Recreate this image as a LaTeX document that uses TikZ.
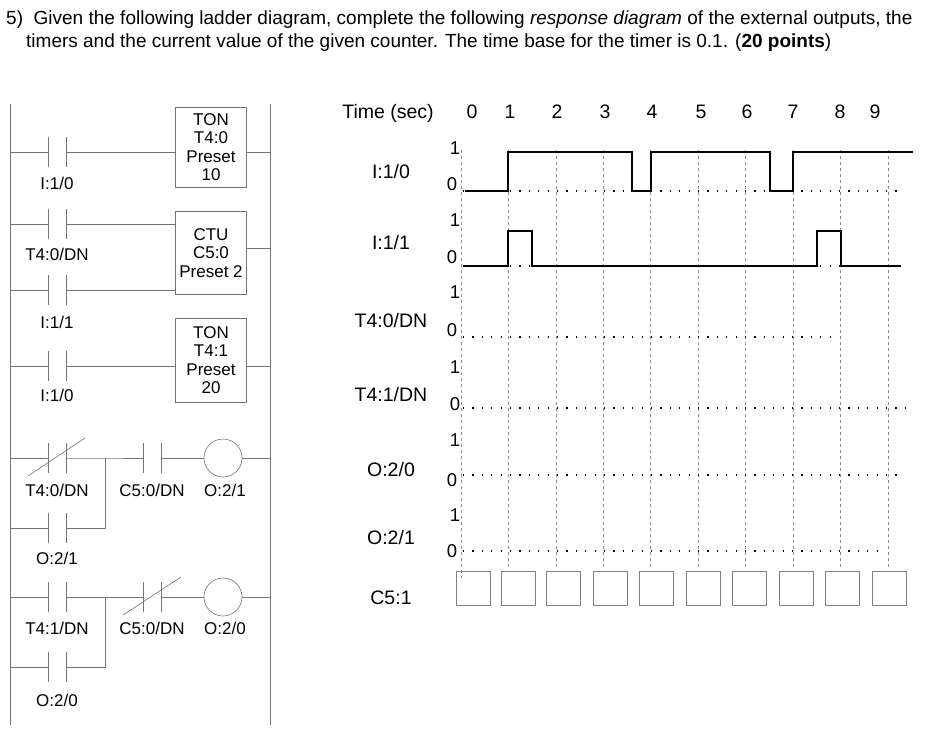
\documentclass[tikz,border=0pt]{standalone}
\usepackage{fontspec}
\setmainfont{Liberation Sans}
\begin{document}
\begin{tikzpicture}[x=1pt,y=-1pt,
  wire/.style={draw=black!55,line width=0.6pt},
  blk/.style={draw=black!55,line width=0.6pt,minimum width=71pt,align=center,font=\fontsize{17}{18.5}\selectfont,inner sep=1pt},
  lbl/.style={font=\fontsize{17}{19}\selectfont,inner sep=0pt},
  rl/.style={font=\fontsize{19.5}{21}\selectfont,inner sep=0pt},
  grid/.style={draw=black!45,dashed,line width=0.5pt},
  dots/.style={draw=black,line width=1.2pt,dash pattern=on 1.2pt off 8.2pt},
  sig/.style={draw=black,line width=1.6pt},
  cbox/.style={draw=black!50,line width=0.6pt,minimum width=34pt,minimum height=34pt,inner sep=0pt}]
\useasboundingbox (0,0) rectangle (942,745);
% header
\node[anchor=west,inner sep=0pt,font=\fontsize{19}{21}\selectfont] (h1) at (6,20) {5)\ \ Given the following ladder diagram, complete the following \emph{response diagram} of the external outputs, the};
\node[anchor=west,inner sep=0pt,font=\fontsize{19}{21}\selectfont] (h2) at (26,43) {timers and the current value of the given counter. The time base for the timer is 0.1. (\textbf{20 points})};
% rails
\coordinate (lt) at (10,104); \coordinate (lb) at (10,725);
\coordinate (rt) at (270,104); \coordinate (rb) at (270,725);
\draw[wire] (lt)--(lb); \draw[wire] (rt)--(rb);
\newcommand\cont[3]{%
  \coordinate (#3a) at (#1,#2); \coordinate (#3b) at (#1+18,#2);
  \draw[wire] (#1,#2-15)--(#1,#2+15); \draw[wire] (#1+18,#2-15)--(#1+18,#2+15);}
% boxes
\node[blk,minimum height=80pt] (ton0) at (211,147) {TON\\T4:0\\Preset\\10};
\node[blk,minimum height=83pt] (ctu) at (211,253) {CTU\\C5:0\\Preset 2};
\node[blk,minimum height=84pt] (ton1) at (211,360) {TON\\T4:1\\Preset\\20};
% rung 1
\cont{48}{152}{c1}
\draw[wire] (10,152)--(c1a); \draw[wire] (c1b)--(ton0.west|-0,152);
\draw[wire] (ton0.east|-0,152)--(270,152);
\node[lbl] (l1) at (57,183) {I:1/0};
% rung 2
\cont{48}{224}{c2}
\draw[wire] (10,224)--(c2a); \draw[wire] (c2b)--(ctu.west|-0,224);
\node[lbl] (l2) at (57,254) {T4:0/DN};
\cont{48}{290}{c3}
\draw[wire] (10,290)--(c3a); \draw[wire] (c3b)--(ctu.west|-0,290);
\node[lbl] (l3) at (57,322) {I:1/1};
\draw[wire] (ctu.east|-0,248)--(270,248);
% rung 3
\cont{48}{366}{c4}
\draw[wire] (10,366)--(c4a); \draw[wire] (c4b)--(ton1.west|-0,366);
\draw[wire] (ton1.east|-0,366)--(270,366);
\node[lbl] (l4) at (57,395) {I:1/0};
% rung 4
\cont{48}{458}{c5} \draw[wire] (28,476)--(85,438);
\draw[wire] (10,458)--(c5a); \draw[wire] (c5b)--(105,458)--(143,458);
\cont{48}{528}{c6}
\draw[wire] (10,528)--(c6a); \draw[wire] (c6b)--(105,528)--(105,458);
\cont{143}{458}{c7}
\node[circle,draw=black!55,line width=0.6pt,minimum size=38pt,inner sep=0pt] (o1) at (223,458) {};
\draw[wire] (c7b)--(o1.west); \draw[wire] (o1.east)--(270,458);
\node[lbl] (l5) at (57,490) {T4:0/DN};
\node[lbl] (l6) at (57,558) {O:2/1};
\node[lbl] (l7) at (152,490) {C5:0/DN};
\node[lbl] (l8) at (225,490) {O:2/1};
% rung 5
\cont{48}{597}{c8}
\draw[wire] (10,597)--(c8a); \draw[wire] (c8b)--(105,597)--(143,597);
\cont{48}{667}{c9}
\draw[wire] (10,667)--(c9a); \draw[wire] (c9b)--(105,667)--(105,597);
\cont{143}{597}{c10} \draw[wire] (123,615)--(181,577);
\node[circle,draw=black!55,line width=0.6pt,minimum size=38pt,inner sep=0pt] (o2) at (223,597) {};
\draw[wire] (c10b)--(o2.west); \draw[wire] (o2.east)--(270,597);
\node[lbl] (l9) at (57,628) {T4:1/DN};
\node[lbl] (l10) at (152,628) {C5:0/DN};
\node[lbl] (l11) at (225,628) {O:2/0};
\node[lbl] (l12) at (57,700) {O:2/0};
% timing diagram
\node[rl] (ts) at (388,113) {Time (sec)};
\foreach \n/\x in {0/472,1/510,2/557,3/605,4/652,5/701,6/747,7/793,8/840,9/875}
  \node[rl] (t\n) at (\x,112) {\n};
\foreach \x in {508,556,603,650,698,745,793,840,888} \draw[grid] (\x,150)--(\x,567);
\draw[grid] (461,150)--(461,578);
\foreach \nm/\y/\t in {a/172/{I:1/0},b/243/{I:1/1},c/321/{T4:0/DN},d/395/{T4:1/DN},e/470/{O:2/0},f/538/{O:2/1},g/598/{C5:1}}
  \node[rl] (s\nm) at (391,\y) {\t};
\foreach \k/\one/\zero/\zx in {a/148/184/452,b/220/257/452,c/292/330/452,d/367/404/455,e/440/480/452,f/515/551/452}{
  \node[rl,font=\fontsize{18.5}{20}\selectfont] (one\k) at (455,\one) {1};
  \node[rl,font=\fontsize{18.5}{20}\selectfont] (zero\k) at (\zx,\zero) {0};}
\foreach \y/\xe in {191/900,266/900,337/830,408/905,475/898,551/880} \draw[dots] (463,\y)--(\xe,\y);
\draw[sig] (465,191)--(508,191)--(508,152)--(632,152)--(632,191)--(651,191)--(651,152)--(770,152)--(770,191)--(793,191)--(793,152)--(913,152);
\draw[sig] (463,266)--(508,266)--(508,231)--(532,231)--(532,266)--(817,266)--(817,231)--(841,231)--(841,266)--(901,266);
\foreach \i/\x in {0/473,1/518,2/563,3/610,4/656,5/703,6/749,7/796,8/842,9/889}
  \node[cbox] (cb\i) at (\x,588) {};
\end{tikzpicture}
\end{document}
